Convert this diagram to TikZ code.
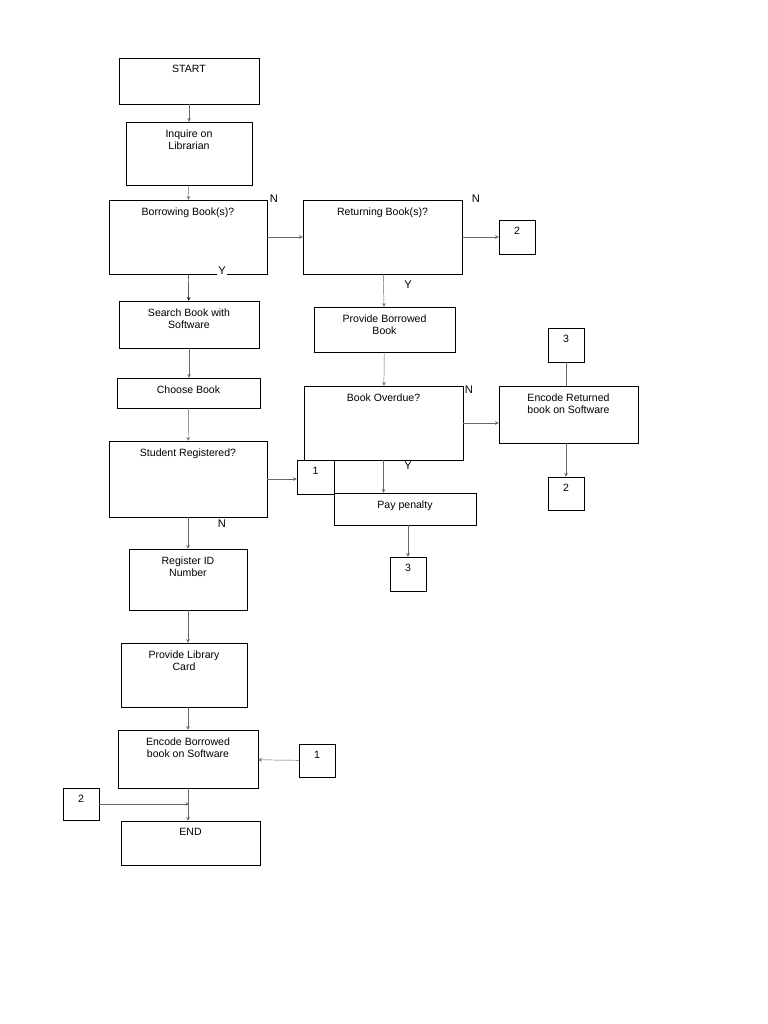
\documentclass[tikz,border=0pt]{standalone}
\usepackage{fontspec}
\setmainfont{Liberation Sans}
\tikzstyle{arrow} = [->,>=stealth,draw=black!60]
\tikzstyle{line} = [draw=black!60]
\tikzstyle{box} = [draw,rectangle,inner sep=0pt,font=\fontsize{9}{11}\selectfont]
\tikzset{sz/.style 2 args={minimum width=#1*0.03cm, minimum height=#2*0.03cm}}
\tikzset{txt/.style={label={[anchor=north,align=center,yshift=-3pt,font=\fontsize{9}{11}\selectfont]north:#1}}}
\tikzstyle{yn} = [fill=white,inner sep=1pt,font=\fontsize{9.5}{11}\selectfont]

\begin{document}
\begin{tikzpicture}[x=0.03cm,y=-0.03cm]
        \useasboundingbox (0,0) rectangle (768,1024);
        \node[box, sz={140}{46}, txt=START] at (189,81) (start) {};
        \node[box, sz={126}{63}, txt={Inquire on\\Librarian}] at (189,153.5) (inq) {};
        \node[box, sz={158}{74}, txt={Borrowing Book(s)?}] at (188,237) (bor) {};
        \node[box, sz={159}{74}, txt={Returning Book(s)?}] at (382.5,237) (ret) {};
        \node[box, sz={36}{34}, txt=2] at (517,237) (twoA) {};
        \node[box, sz={140}{47}, txt={Search Book with\\Software}] at (189,324.5) (search) {};
        \node[box, sz={141}{45}, txt={Provide Borrowed\\Book}] at (384.5,329.5) (provb) {};
        \node[box, sz={36}{34}, txt=3] at (566,345) (threeA) {};
        \node[box, sz={143}{30}, txt={Choose Book}] at (188.5,393) (choose) {};
        \node[box, sz={159}{74}, txt={Book Overdue?}] at (383.5,423) (over) {};
        \node[box, sz={139}{57}, txt={Encode Returned\\book on Software}] at (568.5,414.5) (encr) {};
        \node[box, sz={158}{76}, txt={Student Registered?}] at (188,479) (stud) {};
        \node[box, sz={37}{34}, txt=1] at (315.5,477) (oneA) {};
        \node[box, sz={142}{32}, fill=white, txt={Pay penalty}] at (405,509) (pay) {};
        \node[box, sz={36}{33}, txt=2] at (566,493.5) (twoB) {};
        \node[box, sz={36}{34}, txt=3] at (408,574) (threeB) {};
        \node[box, sz={118}{61}, txt={Register ID\\Number}] at (188,579.5) (reg) {};
        \node[box, sz={126}{64}, txt={Provide Library\\Card}] at (184,675) (card) {};
        \node[box, sz={140}{58}, txt={Encode Borrowed\\book on Software}] at (188,759) (encb) {};
        \node[box, sz={36}{33}, txt=1] at (317,760.5) (oneB) {};
        \node[box, sz={36}{32}, txt=2] at (81,804) (twoC) {};
        \node[box, sz={139}{44}, txt=END] at (190.5,843) (end) {};

        \draw[arrow] (start) -- (inq);
        \draw[arrow] (inq) -- (bor);
        \draw[->,>=stealth] (bor) -- (search);
        \draw[arrow] (bor) -- (ret);
        \draw[arrow] (ret) -- (twoA);
        \draw[arrow] (ret) -- (provb);
        \draw[arrow] (provb) -- (over);
        \draw[arrow] (over.east) -- (encr.west |- over.east);
        \draw[arrow] (over.south) -- (pay.north -| over.south);
        \draw[line] (threeA) -- (threeA |- encr.north);
        \draw[arrow] (encr.south -| twoB) -- (twoB);
        \draw[arrow] (pay.south -| threeB) -- (threeB);
        \draw[arrow] (search) -- (search |- choose.north);
        \draw[arrow] (choose) -- (stud);
        \draw[arrow] (stud.east) -- (stud.east -| oneA.west);
        \draw[arrow] (stud) -- (reg);
        \draw[arrow] (reg) -- (reg |- card.north);
        \draw[arrow] (card.south -| encb) -- (encb);
        \draw[arrow] (oneB) -- (encb);
        \draw[arrow] (encb) -- (end.north -| encb);
        \coordinate (join) at (189,804);
        \draw[arrow] (twoC) -- (join);

        \node[yn] at (274,199) (bN) {N};
        \node[yn] at (222,271) (bY) {Y};
        \node[yn] at (476,199) (rN) {N};
        \node[yn] at (408,285) (rY) {Y};
        \node[yn] at (469,390) (oN) {N};
        \node[yn] at (408,466) (oY) {Y};
        \node[yn] at (222,524) (sN) {N};
\end{tikzpicture}
\end{document}
